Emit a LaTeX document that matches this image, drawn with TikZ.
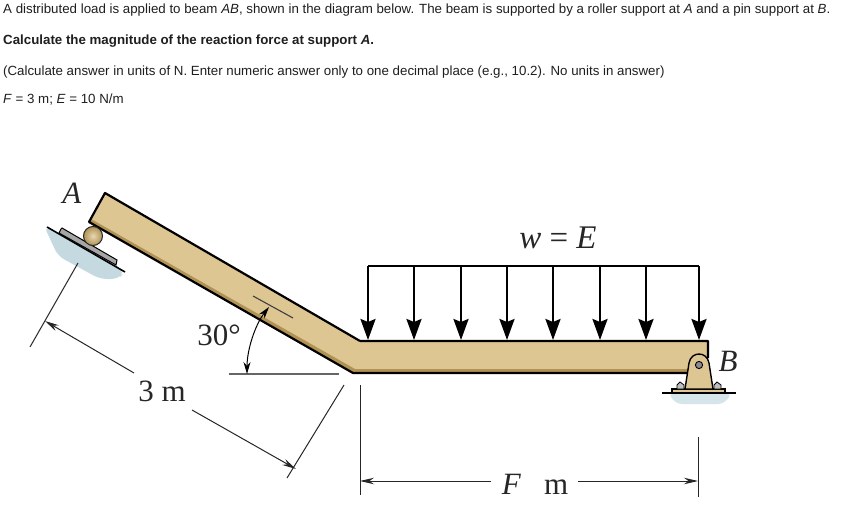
\documentclass[tikz,border=0pt]{standalone}
\usepackage{fontspec}
\setmainfont{Liberation Sans}
\newfontfamily\serifx{Liberation Serif}
\usetikzlibrary{arrows.meta}
\definecolor{beamc}{RGB}{221,198,146}
\definecolor{beamd}{RGB}{176,146,84}
\definecolor{gndc}{RGB}{196,218,224}
\definecolor{txt}{RGB}{30,30,30}
\tikzset{
  para/.style={anchor=base west,inner sep=0,font=\fontsize{13.3}{15}\selectfont,text=txt},
  lab/.style={inner sep=0,font=\serifx\fontsize{31}{31}\selectfont,text=black!85},
  dim/.style={draw=black!85,line width=1pt},
  dimarrow/.style={dim,-{Stealth[length=14pt,width=6.5pt]}},
  load/.style={draw=black,line width=2.4pt,-{Stealth[length=21pt,width=15pt,inset=3pt]}},
  outl/.style={draw=black,line width=2.2pt,line join=round},
}
\begin{document}
\begin{tikzpicture}[x=1pt,y=-1pt]
\useasboundingbox (0,0) rectangle (853,529);
\node[para] (t1) at (3,14) {A distributed load is applied to beam \textit{AB}, shown in the diagram below. The beam is supported by a roller support at \textit{A} and a pin support at \textit{B}.};
\node[para] (t2) at (3,44.5) {\textbf{Calculate the magnitude of the reaction force at support \textit{A}.}};
\node[para] (t3) at (3,75.5) {(Calculate answer in units of N. Enter numeric answer only to one decimal place (e.g., 10.2). No units in answer)};
\node[para] (t4) at (3,103.5) {\textit{F} = 3 m; \textit{E} = 10 N/m};
% ground shading
\fill[gndc,rounded corners=7pt] (44,226) -- (125,272) -- (118,279) -- (100,279) -- (58,256) -- cycle;
\fill[gndc!70,rounded corners=6pt] (668,393) -- (732,393) -- (724,404) -- (676,404) -- cycle;
% beam
\fill[beamc] (105,193) -- (360,341) -- (708,341) -- (708,373) -- (353,373) -- (89,222) -- cycle;
\fill[beamd] (89,222) -- (353,373) -- (708,373) -- (708,369) -- (355,369) -- (91,219) -- cycle;
\draw[outl] (360,341) -- (105,193) -- (89,222) -- (353,373) -- (708,373) (360,341) -- (708,341) -- (708,358);
% roller support
\draw[black,line width=1.6pt] (47,227) -- (125,272);
\filldraw[fill=black!35,draw=black,line width=1pt] (61,229) -- (62,228) -- (117,260) -- (116,265) -- (59,233) -- cycle;
\shade[inner color=beamc!70,outer color=beamd] (93,236) circle (9.5);
\draw[black!85,line width=1pt] (93,236) circle (9.5);
% pin support
\draw[black,line width=1.4pt] (662,393) -- (736,393);
\filldraw[fill=beamc,draw=black,line width=1.1pt] (672,389) rectangle (725,393);
\filldraw[fill=black!25,draw=black,line width=.8pt] (677,389) -- (677,385) -- (680,382) -- (684,385) -- (684,389) -- cycle;
\filldraw[fill=black!25,draw=black,line width=.8pt] (714,389) -- (714,385) -- (717,382) -- (721,385) -- (721,389) -- cycle;
\filldraw[fill=beamc,draw=black,line width=1.4pt] (685,389) -- (689,363) .. controls (691,351) and (707,351) .. (709,363) -- (713,389) -- cycle;
\filldraw[fill=black!45,draw=black,line width=.9pt] (699,365) circle (3.6);
% load
\draw[black,line width=1.2pt] (368,266) -- (699,266);
\foreach \n/\x in {a/368,b/414,c/461,d/507,e/553,f/600,g/646,h/699}{
  \coordinate (s\n) at (\x,266);
  \coordinate (e\n) at (\x,340);
  \draw[load] (s\n) -- (e\n);
}
\node[lab,font=\serifx\fontsize{33}{33}\selectfont] (w) at (558,238) {\textit{w} = \textit{E}};
\node[lab] (A) at (72,193) {\textit{A}};
\node[lab] (B) at (728,361) {\textit{B}};
% angle
\draw[black!60,line width=1.2pt] (229,374) -- (339,374);
\draw[black!75,line width=1.1pt] (253,296) -- (293,318);
\coordinate (a1) at (269,307);
\coordinate (a2) at (247,374);
\draw[black,line width=1pt,{Stealth[length=12pt,width=7pt]}-{Stealth[length=12pt,width=7pt]}] (a1) .. controls (255,325) and (247,350) .. (a2);
\node[lab] (ang) at (219,335) {30°};
% left dimension
\coordinate (x1) at (78,263); \coordinate (x2) at (30,347);
\coordinate (x3) at (344,385); \coordinate (x4) at (287,478);
\draw[dim] (x1) -- (x2);
\draw[dim] (x3) -- (x4);
\node[lab] (d3) at (162,391) {3 m};
\coordinate (p1) at (45,321); \coordinate (p2) at (296,469);
\coordinate (q1) at (134,373); \coordinate (q2) at (192,410);
\draw[dimarrow] (q1) -- (p1);
\draw[dimarrow] (q2) -- (p2);
% bottom dimension
\coordinate (y1) at (360,385); \coordinate (y2) at (360,495);
\coordinate (z1) at (698,437); \coordinate (z2) at (698,497);
\draw[dim] (y1) -- (y2);
\draw[dim] (z1) -- (z2);
\node[lab] (Fm) at (535,484) {\textit{F}\hspace{23pt}m};
\coordinate (r1) at (491,481); \coordinate (r2) at (360,481);
\coordinate (r3) at (578,481); \coordinate (r4) at (698,481);
\draw[dimarrow] (r1) -- (r2);
\draw[dimarrow] (r3) -- (r4);
\end{tikzpicture}
\end{document}
